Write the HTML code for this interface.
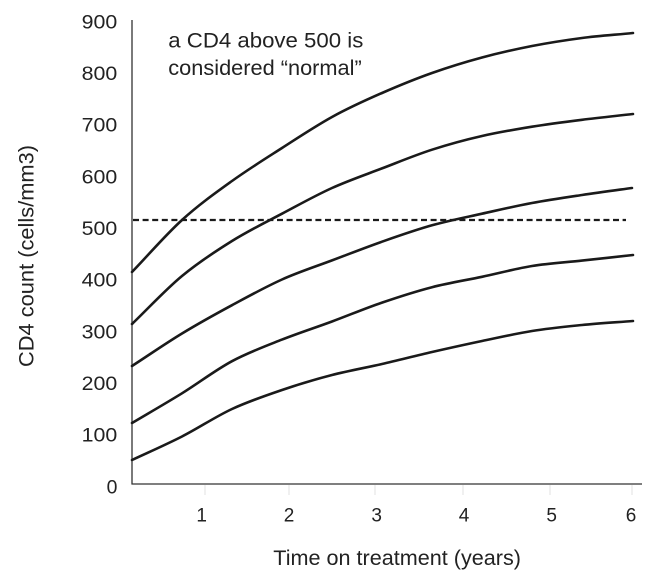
<!DOCTYPE html>
<html>
<head>
<meta charset="utf-8">
<style>
html,body{margin:0;padding:0;background:#fff;}
svg{display:block;}
text{font-family:"Liberation Sans",Arial,sans-serif;fill:#222;}
</style>
</head>
<body>
<svg width="658" height="577" viewBox="0 0 658 577" xmlns="http://www.w3.org/2000/svg">
  <rect width="658" height="577" fill="#fff"/>
  <!-- faint x ticks -->
  <g stroke="#e2e2e2" stroke-width="1">
    <line x1="205" y1="485" x2="205" y2="495"/>
    <line x1="289" y1="485" x2="289" y2="495"/>
    <line x1="375" y1="485" x2="375" y2="495"/>
    <line x1="463" y1="485" x2="463" y2="495"/>
    <line x1="550" y1="485" x2="550" y2="495"/>
    <line x1="632" y1="485" x2="632" y2="495"/>
  </g>
  <!-- axes -->
  <line x1="132" y1="20" x2="132" y2="484.5" stroke="#333" stroke-width="1.3"/>
  <line x1="131.5" y1="484" x2="642" y2="484" stroke="#333" stroke-width="1.3"/>

  <!-- dashed reference line -->
  <line x1="133" y1="220" x2="626" y2="220" stroke="#1a1a1a" stroke-width="2.2" stroke-dasharray="6 3.6"/>

  <!-- curves -->
  <g fill="none" stroke="#1a1a1a" stroke-width="2.6" stroke-linejoin="round" stroke-linecap="round">
    <path d="M132,272 C148.7,254.7 165.3,235.2 182,220 C198.7,204.8 215.3,193 232,181 C248.7,169 265.3,158.7 282,148 C298.7,137.3 315.3,126.2 332,117 C348.7,107.8 365.3,100.3 382,93 C398.7,85.7 415.3,78.9 432,73 C448.7,67.1 465.3,62 482,57.5 C498.7,53 515.3,49.3 532,46 C548.7,42.8 565.3,40.2 582,38 C598.7,35.8 616.3,34.7 633,33"/>
    <path d="M132,324 C148.7,308 165.3,289.8 182,276 C198.7,262.2 215.3,251.4 232,241 C248.7,230.6 265.3,222.5 282,213.7 C298.7,204.9 315.3,195.55 332,188 C348.7,180.45 365.3,174.8 382,168.4 C398.7,162 415.3,155.1 432,149.7 C448.7,144.3 465.3,139.8 482,136 C498.7,132.2 515.3,129.4 532,126.7 C548.7,124 565.3,121.9 582,119.8 C598.7,117.7 616.3,115.9 633,114"/>
    <path d="M132,366 C148.7,355.2 165.3,343.6 182,333.5 C198.7,323.4 215.3,314.2 232,305.2 C248.7,296.2 265.3,287 282,279.5 C298.7,272 315.3,266.7 332,260.4 C348.7,254.1 365.3,247.55 382,241.7 C398.7,235.85 415.3,230 432,225.3 C448.7,220.6 465.3,217.4 482,213.7 C498.7,210 515.3,206.1 532,203 C548.7,199.9 565.3,197.5 582,195 C598.7,192.5 615.3,190.3 632,188"/>
    <path d="M132,423 C148.7,413.1 165.3,403.6 182,393.3 C198.7,383 215.3,370.15 232,361.2 C248.7,352.25 265.3,346.2 282,339.6 C298.7,333 315.3,327.7 332,321.5 C348.7,315.3 365.3,308.3 382,302.6 C398.7,296.9 415.3,291.5 432,287.2 C448.7,282.9 465.3,280.3 482,276.8 C498.7,273.3 515.3,268.7 532,266 C548.7,263.3 565.3,262.4 582,260.6 C598.7,258.8 616.3,256.9 633,255"/>
    <path d="M132,460 C148.7,452.2 165.3,445 182,436.5 C198.7,428 215.3,416.75 232,409 C248.7,401.25 265.3,395.7 282,390 C298.7,384.3 315.3,379.3 332,375 C348.7,370.7 365.3,367.8 382,364 C398.7,360.2 415.3,355.8 432,352 C448.7,348.2 465.3,344.5 482,341 C498.7,337.5 515.3,333.7 532,331 C548.7,328.3 565.3,326.7 582,325 C598.7,323.3 616.3,322.3 633,321"/>
  </g>

  <!-- y tick labels -->
  <g font-size="19">
    <text x="81.7" y="28.3" textLength="35.6" lengthAdjust="spacingAndGlyphs">900</text>
    <text x="81.7" y="80" textLength="35.6" lengthAdjust="spacingAndGlyphs">800</text>
    <text x="81.7" y="131.6" textLength="35.6" lengthAdjust="spacingAndGlyphs">700</text>
    <text x="81.7" y="183.3" textLength="35.6" lengthAdjust="spacingAndGlyphs">600</text>
    <text x="81.7" y="235" textLength="35.6" lengthAdjust="spacingAndGlyphs">500</text>
    <text x="81.7" y="286.6" textLength="35.6" lengthAdjust="spacingAndGlyphs">400</text>
    <text x="81.7" y="338.3" textLength="35.6" lengthAdjust="spacingAndGlyphs">300</text>
    <text x="81.7" y="390" textLength="35.6" lengthAdjust="spacingAndGlyphs">200</text>
    <text x="81.7" y="441.7" textLength="35.6" lengthAdjust="spacingAndGlyphs">100</text>
    <text x="106.7" y="493.3" textLength="10.8" lengthAdjust="spacingAndGlyphs">0</text>
  </g>

  <!-- x tick labels -->
  <g font-size="19" text-anchor="middle">
    <text x="201.7" y="521.7">1</text>
    <text x="289" y="521.7">2</text>
    <text x="376.7" y="521.7">3</text>
    <text x="464" y="521.7">4</text>
    <text x="551.7" y="521.7">5</text>
    <text x="631" y="521.7">6</text>
  </g>

  <!-- annotation -->
  <g font-size="21">
    <text x="168.3" y="47.3" textLength="195" lengthAdjust="spacingAndGlyphs">a CD4 above 500 is</text>
    <text x="168.3" y="75" textLength="193.4" lengthAdjust="spacingAndGlyphs">considered “normal”</text>
  </g>

  <!-- axis titles -->
  <text x="273.3" y="565" font-size="21" textLength="247.7" lengthAdjust="spacingAndGlyphs">Time on treatment (years)</text>
  <text transform="translate(33.3,367) rotate(-90)" x="0" y="0" font-size="21" textLength="222" lengthAdjust="spacingAndGlyphs">CD4 count (cells/mm3)</text>
</svg>
</body>
</html>
